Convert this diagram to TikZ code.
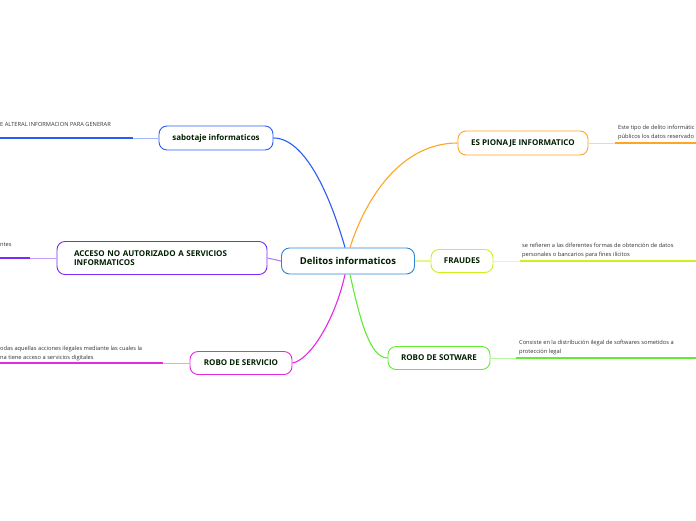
\documentclass[tikz,border=0pt]{standalone}
\usepackage{fontspec}
\setmainfont{Open Sans}
\begin{document}
\begin{tikzpicture}[x=1pt,y=-1pt,
  topic/.style={draw=#1,line width=0.9pt,rounded corners=8pt,fill=white,font=\fontsize{8}{9.5}\selectfont\bfseries,text=black!70!green!40!black,inner sep=0pt,align=left},
  note/.style={font=\fontsize{5.7}{8.8}\selectfont,text=black!80,anchor=south west,inner sep=0pt,align=left},
  thin/.style={draw=#1!45,line width=0.7pt},
  thick/.style={draw=#1,line width=1.4pt},
  branch/.style={draw=#1,line width=1.1pt}]
\definecolor{cb}{HTML}{2B5CF5}
\definecolor{cp}{HTML}{7B2BF5}
\definecolor{cm}{HTML}{E428E4}
\definecolor{co}{HTML}{FFA526}
\definecolor{cy}{HTML}{D2EE22}
\definecolor{cg}{HTML}{62EA34}
\definecolor{cc}{HTML}{2F86D8}
\useasboundingbox (0,0) rectangle (696,520);
\clip (0,0) rectangle (696,520);
% center
\node[topic=cc,minimum width=133pt,minimum height=26pt,align=center,font=\fontsize{9.5}{11}\selectfont\bfseries] (c) at (348,261) {Delitos informaticos};
% topics
\node[topic=cb,minimum width=114pt,minimum height=24pt,align=center] (sab) at (216,138) {sabotaje informaticos};
\node[topic=cp,minimum width=210pt,minimum height=33pt,text width=176pt] (acc) at (162,258) {ACCESO NO AUTORIZADO A SERVICIOS\\INFORMATICOS};
\node[topic=cm,minimum width=102pt,minimum height=23pt,align=center] (rs) at (241,363) {ROBO DE SERVICIO};
\node[topic=co,minimum width=130pt,minimum height=24pt,align=center] (es) at (523,143) {ES PIONAJE INFORMATICO};
\node[topic=cy,minimum width=62pt,minimum height=23pt,align=center] (fr) at (462,261) {FRAUDES};
\node[topic=cg,minimum width=102pt,minimum height=23pt,align=center] (sw) at (439,358) {ROBO DE SOTWARE};
% branches
\draw[branch=cb] ([xshift=-3pt]c.north) .. controls (330,195) and (305,138) .. (sab.east);
\draw[branch=cp!60] (c.west) -- (acc.east);
\draw[branch=cm] ([xshift=-3pt]c.south) .. controls (335,320) and (310,360) .. (rs.east);
\draw[branch=co] ([xshift=2pt]c.north) .. controls (365,200) and (400,143) .. (es.west);
\draw[branch=cy!50] (c.east) -- (fr.west);
\draw[branch=cg] ([xshift=2pt]c.south) .. controls (360,320) and (370,358) .. (sw.west);
% leaf lines
\coordinate (l1) at (133,138); \coordinate (e1) at (0,138);
\draw[thin=cb] (sab.west) -- (l1); \draw[thick=cb] (l1) -- (e1);
\coordinate (l2) at (30,258); \coordinate (e2) at (0,258);
\draw[thin=cp] (acc.west) -- (l2); \draw[thick=cp] (l2) -- (e2);
\coordinate (l3) at (163,363); \coordinate (e3) at (0,363);
\draw[thin=cm] (rs.west) -- (l3); \draw[thick=cm] (l3) -- (e3);
\coordinate (l4) at (615,143); \coordinate (e4) at (696,143);
\draw[thin=co] (es.east) -- (l4); \draw[thick=co] (l4) -- (e4);
\coordinate (l5) at (520,261); \coordinate (e5) at (696,261);
\draw[thin=cy] (fr.east) -- (l5); \draw[thick=cy] (l5) -- (e5);
\coordinate (l6) at (516,358); \coordinate (e6) at (696,358);
\draw[thin=cg] (sw.east) -- (l6); \draw[thick=cg] (l6) -- (e6);
% notes
\node[note] (n1) at (0,127) {E ALTERAL INFORMACION PARA GENERAR};
\node[note] (n2) at (0,247) {ntes};
\node[note] (n3) at (0,361) {odas aquellas acciones ilegales mediante las cuales la\\na tiene acceso a servicios digitales};
\node[note] (n4) at (618,140) {Este tipo de delito informátic\\públicos los datos reservado};
\node[note] (n5) at (522,258) {se refieren a las diferentes formas de obtención de datos\\personales o bancarios para fines ilícitos};
\node[note] (n6) at (519,355) {Consiste en la distribución ilegal de softwares sometidos a\\protección legal};
\end{tikzpicture}
\end{document}
